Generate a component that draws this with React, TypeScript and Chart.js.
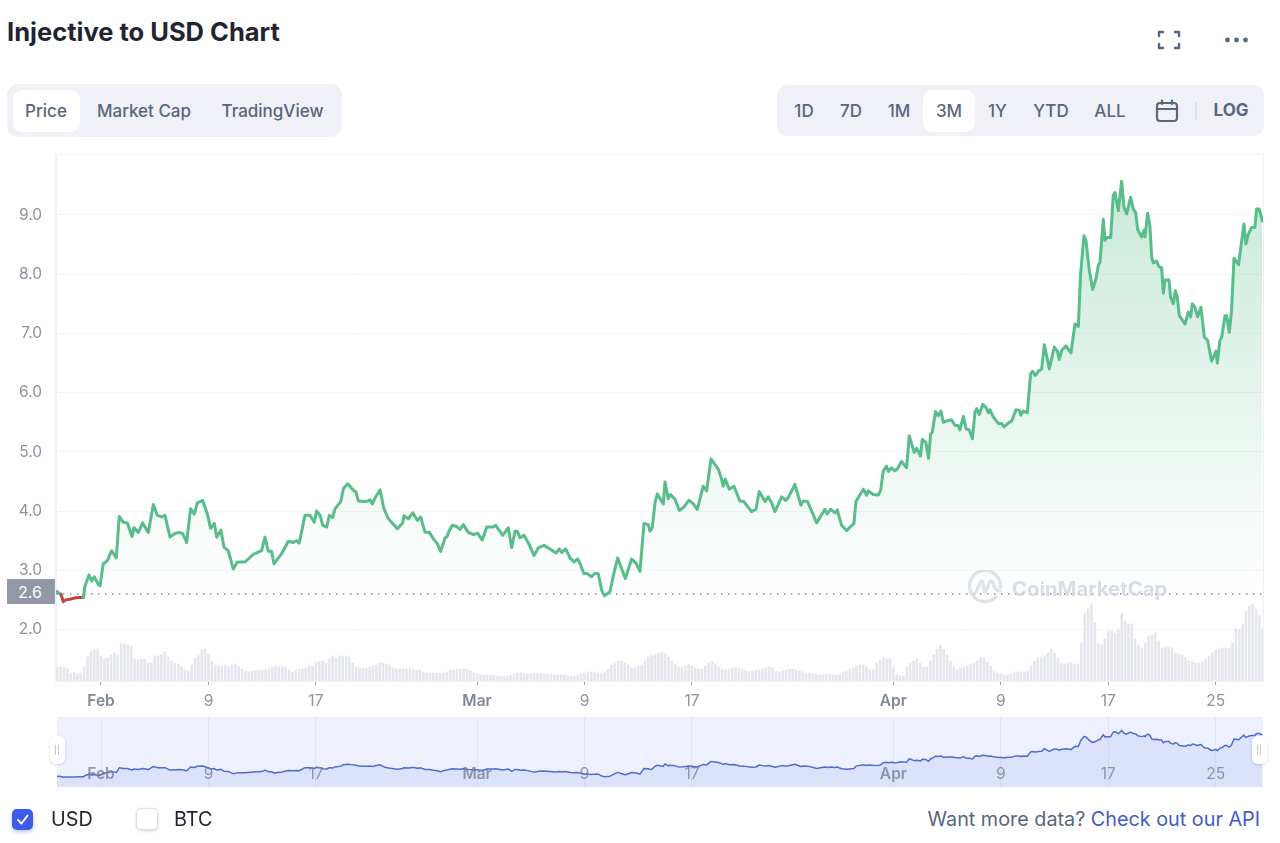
import { useEffect, useRef } from 'react';
import Chart from 'chart.js/auto';

// x values are days counted from Feb 1
const priceDays = [
  -3.3, -2.98, -2.8, -2.63, -2.31, -1.99, -1.64, -1.32, -1.19, -0.89, -0.69, -0.5, -0.2, -0.07, 0.17, 0.47, 0.79, 1.14, 1.36, 1.66,
  1.96, 2.31, 2.46, 2.78, 3.1, 3.52, 3.9, 4.19, 4.52, 4.76, 5.14, 5.51, 5.81, 6.08, 6.38, 6.67, 6.95, 7.17, 7.57, 7.92,
  8.16, 8.44, 8.61, 8.93, 9.16, 9.48, 9.85, 10.15, 10.72, 11.34, 11.96, 12.21, 12.46, 12.7, 12.88, 13.45, 13.95, 14.32, 14.57, 14.76,
  15.19, 15.56, 15.88, 16.05, 16.31, 16.51, 16.81, 17.0, 17.25, 17.43, 17.85, 18.05, 18.37, 18.79, 18.99, 19.16, 19.73, 20.03, 20.21, 20.4,
  20.78, 21.07, 21.4, 22.07, 22.46, 22.56, 22.89, 23.21, 23.56, 23.8, 24.13, 24.45, 24.75, 25.04, 25.29, 25.62, 25.74, 25.91, 26.16, 26.48,
  26.73, 26.98, 27.35, 27.77, 28.02, 28.39, 28.72, 29.21, 29.39, 29.91, 30.33, 30.58, 30.83, 31.0, 31.2, 31.5, 31.87, 32.24, 32.56, 32.98,
  33.43, 33.88, 34.13, 34.3, 34.6, 34.92, 35.22, 35.49, 35.66, 35.96, 36.16, 36.53, 36.78, 37.03, 37.28, 37.48, 37.9, 38.15, 38.47, 38.72,
  39.04, 39.51, 39.83, 40.13, 40.43, 40.75, 40.87, 41.05, 41.25, 41.42, 41.87, 41.99, 42.24, 42.41, 42.74, 43.06, 43.36, 43.78, 44.1, 44.4,
  44.84, 45.09, 45.42, 45.71, 45.96, 46.21, 46.33, 46.48, 46.78, 47.13, 47.57, 47.87, 48.44, 48.77, 49.01, 49.44, 49.68, 49.93, 50.18, 50.68,
  50.97, 51.17, 51.67, 52.11, 52.29, 52.61, 53.03, 53.28, 53.9, 54.08, 54.32, 54.65, 54.82, 55.14, 55.51, 56.06, 56.21, 56.76, 57.0, 57.13,
  57.5, 57.87, 58.05, 58.24, 58.49, 58.62, 58.86, 59.11, 59.29, 59.61, 59.98, 60.18, 60.55, 60.73, 61.02, 61.15, 61.42, 61.62, 61.77, 61.89,
  62.14, 62.34, 62.54, 62.71, 63.08, 63.33, 63.58, 63.83, 63.95, 64.21, 64.41, 64.65, 64.88, 65.08, 65.2, 65.4, 65.65, 65.9, 66.07, 66.19,
  66.44, 66.81, 67.06, 67.24, 67.56, 67.81, 68.13, 68.38, 68.48, 68.67, 68.97, 69.22, 69.37, 69.57, 69.79, 70.04, 70.24, 70.61, 70.98, 71.21,
  71.35, 71.53, 71.85, 72.22, 72.52, 72.77, 72.94, 73.19, 73.34, 73.59, 73.84, 74.08, 74.26, 74.38, 74.63, 74.75, 74.88, 75.18, 75.37, 75.5,
  75.75, 75.99, 76.17, 76.37, 76.66, 76.86, 77.04, 77.19, 77.48, 77.66, 77.73, 77.93, 78.1, 78.23, 78.35, 78.6, 78.77, 78.97, 79.1, 79.22,
  79.52, 79.64, 79.84, 79.99, 80.14, 80.29, 80.71, 80.96, 81.13, 81.26, 81.45, 81.65, 81.9, 82.15, 82.4, 82.69, 83.02, 83.12, 83.31, 83.44,
  83.69, 83.81, 84.01, 84.18, 84.36, 84.7, 85.1, 85.25, 85.42, 85.67, 85.92, 86.04, 86.24, 86.47,
];

const prices = [
  2.64, 2.59, 2.47, 2.5, 2.51, 2.53, 2.54, 2.54, 2.74, 2.92, 2.82, 2.89, 2.76, 2.74, 3.11, 3.16, 3.33, 3.21, 3.91, 3.81,
  3.8, 3.57, 3.72, 3.64, 3.8, 3.64, 4.11, 3.93, 3.9, 3.93, 3.56, 3.62, 3.64, 3.62, 3.47, 4.04, 3.95, 4.14, 4.18, 3.95,
  3.71, 3.79, 3.56, 3.68, 3.39, 3.33, 3.02, 3.14, 3.14, 3.27, 3.33, 3.56, 3.32, 3.32, 3.11, 3.28, 3.49, 3.47, 3.5, 3.46,
  3.93, 3.93, 3.81, 4.0, 3.93, 3.76, 3.73, 3.93, 3.89, 4.04, 4.16, 4.38, 4.46, 4.35, 4.32, 4.17, 4.16, 4.19, 4.12, 4.22,
  4.36, 4.04, 3.87, 3.7, 3.8, 3.92, 3.87, 3.97, 3.84, 3.9, 3.64, 3.64, 3.53, 3.45, 3.32, 3.55, 3.56, 3.66, 3.76, 3.74,
  3.69, 3.77, 3.64, 3.6, 3.63, 3.51, 3.73, 3.73, 3.76, 3.59, 3.72, 3.38, 3.66, 3.66, 3.55, 3.59, 3.44, 3.25, 3.38, 3.42,
  3.36, 3.29, 3.36, 3.3, 3.36, 3.21, 3.14, 3.19, 3.12, 2.94, 2.95, 2.89, 2.95, 2.94, 2.66, 2.57, 2.64, 2.91, 3.21, 3.05,
  2.86, 3.19, 3.12, 2.98, 3.79, 3.77, 3.66, 3.72, 4.14, 4.29, 4.12, 4.49, 4.21, 4.28, 4.2, 4.01, 4.06, 4.18, 4.12, 4.03,
  4.42, 4.34, 4.88, 4.79, 4.71, 4.54, 4.42, 4.54, 4.37, 4.42, 4.17, 4.16, 3.99, 4.03, 4.33, 4.16, 4.24, 4.14, 3.99, 4.24,
  4.18, 4.23, 4.45, 4.1, 4.17, 4.16, 3.94, 3.8, 4.03, 3.95, 4.03, 3.97, 4.02, 3.76, 3.67, 3.79, 4.16, 4.37, 4.27, 4.34,
  4.28, 4.27, 4.35, 4.67, 4.76, 4.67, 4.73, 4.68, 4.71, 4.84, 4.73, 5.27, 4.99, 5.06, 4.93, 5.21, 5.16, 4.89, 5.3, 5.33,
  5.68, 5.61, 5.69, 5.5, 5.53, 5.54, 5.45, 5.44, 5.37, 5.6, 5.39, 5.37, 5.22, 5.67, 5.73, 5.63, 5.8, 5.75, 5.66, 5.71,
  5.59, 5.48, 5.48, 5.42, 5.49, 5.52, 5.71, 5.7, 5.62, 5.69, 5.66, 6.32, 6.36, 6.29, 6.36, 6.4, 6.81, 6.4, 6.77, 6.7,
  6.56, 6.71, 6.79, 6.67, 7.16, 7.12, 8.01, 8.65, 8.57, 8.06, 7.74, 7.92, 8.15, 8.2, 8.93, 8.57, 8.62, 8.62, 9.33, 9.38,
  9.07, 9.57, 9.13, 9.02, 9.3, 9.1, 9.04, 8.75, 8.63, 8.74, 8.63, 9.03, 8.82, 8.29, 8.19, 8.22, 8.13, 8.11, 7.68, 7.9,
  7.9, 7.61, 7.5, 7.72, 7.61, 7.3, 7.16, 7.36, 7.28, 7.5, 7.44, 7.28, 7.44, 6.94, 6.88, 6.53, 6.7, 6.5, 6.88, 6.93,
  7.3, 7.3, 7.02, 7.39, 8.27, 8.16, 8.85, 8.51, 8.67, 8.79, 8.79, 9.1, 9.1, 8.9,
];

// four readings a day, first one on day -3.25
const volumes = [
  14, 14, 13, 12, 8, 8, 7, 8, 14, 24, 30, 31, 32, 25, 22, 23, 26, 28, 26, 38,
  37, 36, 35, 22, 21, 22, 22, 18, 18, 25, 25, 26, 29, 24, 20, 18, 17, 14, 11, 10,
  16, 23, 26, 31, 32, 27, 20, 16, 15, 15, 16, 14, 16, 17, 15, 12, 10, 9, 10, 10,
  11, 11, 11, 12, 14, 15, 15, 15, 14, 11, 9, 11, 12, 12, 13, 15, 15, 19, 20, 20,
  18, 22, 25, 23, 25, 25, 25, 24, 18, 14, 13, 13, 13, 14, 15, 16, 18, 18, 17, 16,
  13, 12, 12, 12, 12, 13, 12, 11, 11, 9, 8, 8, 8, 8, 8, 8, 9, 11, 11, 12,
  12, 12, 12, 10, 8, 7, 7, 6, 6, 6, 6, 5, 5, 5, 5, 6, 7, 8, 8, 7,
  7, 7, 8, 8, 8, 7, 7, 7, 6, 6, 6, 6, 5, 5, 5, 6, 7, 8, 9, 9,
  9, 8, 8, 9, 12, 16, 18, 20, 20, 18, 16, 13, 13, 15, 16, 20, 24, 26, 27, 28,
  29, 28, 24, 20, 17, 14, 14, 15, 16, 15, 13, 12, 12, 15, 18, 20, 17, 14, 12, 11,
  12, 13, 13, 13, 12, 10, 9, 10, 11, 11, 12, 13, 14, 13, 10, 9, 10, 11, 12, 12,
  11, 10, 9, 8, 8, 7, 7, 6, 6, 7, 7, 6, 6, 7, 9, 10, 12, 13, 15, 16,
  16, 14, 11, 12, 18, 21, 23, 22, 23, 14, 6, 5, 5, 14, 18, 20, 22, 18, 14, 14,
  20, 26, 32, 36, 32, 26, 20, 14, 11, 13, 14, 15, 17, 18, 20, 23, 23, 19, 15, 10,
  8, 7, 6, 6, 7, 9, 9, 9, 9, 10, 15, 20, 23, 24, 25, 28, 32, 28, 23, 18,
  17, 18, 18, 17, 17, 38, 68, 72, 77, 58, 37, 36, 42, 50, 50, 48, 52, 68, 60, 57,
  57, 42, 36, 33, 38, 45, 46, 48, 40, 33, 34, 34, 33, 28, 27, 26, 23, 20, 19, 18,
  18, 19, 22, 25, 28, 31, 32, 33, 33, 33, 38, 52, 51, 57, 70, 75, 77, 72, 65, 52,
];

const baselinePrice = 2.6;
const priceTicks = [2, 3, 4, 5, 6, 7, 8, 9];
const tickDays = [0, 8, 16, 28, 36, 44, 59, 67, 75, 83];
const tickLabels = ['Feb', '9', '17', 'Mar', '9', '17', 'Apr', '9', '17', '25'];
const monthLabels = ['Feb', 'Mar', 'Apr'];
const leftTabs = [['Price', 46], ['Market Cap', 144], ['TradingView', 272.5]] as const;
const rangeButtons = [['1D', 804], ['7D', 851], ['1M', 899], ['3M', 949], ['1Y', 997.5], ['YTD', 1051], ['ALL', 1110]] as const;

const pricePoints = priceDays.map((x, i) => ({ x, y: prices[i] }));
const volumePoints = volumes.map((y, i) => ({ x: -3.25 + i / 4, y }));
const labelForDay = (value: number) => tickLabels[tickDays.indexOf(value)] ?? '';
const setDayTicks = (scale: any) => {
  scale.ticks = tickDays.map((value) => ({ value }));
};
const isMonthTick = (c: any) => monthLabels.includes(c.tick?.label);

const FONT = 'Inter, "Noto Sans", sans-serif';

function Text({ x, y, size = 16, weight = 500, color = '#58667e', children, align = 'center' }: any) {
  const shift = align === 'center' ? 'translate(-50%, -50%)' : align === 'right' ? 'translate(-100%, -50%)' : 'translateY(-50%)';
  return (
    <span style={{ position: 'absolute', left: x, top: y, transform: shift, fontSize: size, fontWeight: weight, color, whiteSpace: 'nowrap', lineHeight: 1 }}>
      {children}
    </span>
  );
}

function Box({ x, y, w, h, style }: any) {
  return <div style={{ position: 'absolute', left: x, top: y, width: w, height: h, boxSizing: 'border-box', ...style }} />;
}

function Handle({ x }: { x: number }) {
  return (
    <div style={{ position: 'absolute', left: x, top: 736, width: 15, height: 28, background: '#fff', borderRadius: 6, boxShadow: '0 1px 3px rgba(90,100,130,0.25)' }}>
      <div style={{ position: 'absolute', left: 5, top: 9, width: 1, height: 10, background: '#c3c8d2' }} />
      <div style={{ position: 'absolute', left: 8, top: 9, width: 1, height: 10, background: '#c3c8d2' }} />
    </div>
  );
}

export default function App() {
  const mainRef = useRef<HTMLCanvasElement | null>(null);
  const miniRef = useRef<HTMLCanvasElement | null>(null);

  useEffect(() => {
    const mainCtx = mainRef.current?.getContext('2d');
    const miniCtx = miniRef.current?.getContext('2d');
    if (!mainCtx || !miniCtx) return;

    const main = new Chart(mainCtx, {
      type: 'line',
      data: {
        datasets: [
          {
            type: 'line',
            data: pricePoints,
            borderWidth: 3,
            borderColor: '#58bd8a',
            borderJoinStyle: 'round',
            borderCapStyle: 'round',
            pointRadius: 0,
            tension: 0,
            order: 1,
            fill: { target: { value: baselinePrice } },
            backgroundColor: (c: any) => {
              const y = c.chart.scales.y;
              const top = y?.getPixelForValue(9.6);
              const bottom = y?.getPixelForValue(baselinePrice);
              if (!c.chart.chartArea || !Number.isFinite(top) || !Number.isFinite(bottom)) return 'transparent';
              const g = c.chart.ctx.createLinearGradient(0, top, 0, bottom);
              g.addColorStop(0, 'rgba(88,189,138,0.32)');
              g.addColorStop(1, 'rgba(88,189,138,0)');
              return g;
            },
            segment: {
              borderColor: (c: any) => (c.p0.parsed.y < baselinePrice && c.p1.parsed.y < baselinePrice ? '#c7403f' : undefined),
            },
          },
          {
            type: 'line',
            data: [
              { x: -3.35, y: baselinePrice },
              { x: 86.52, y: baselinePrice },
            ],
            borderWidth: 1.4,
            borderColor: '#7d838f',
            borderDash: [1.4, 5.6],
            pointRadius: 0,
            order: 2,
          },
          {
            type: 'bar',
            data: volumePoints,
            yAxisID: 'yVolume',
            backgroundColor: '#e5e7ec',
            barThickness: 2,
            order: 3,
          },
        ] as any,
      },
      options: {
        animation: false,
        responsive: false,
        parsing: false,
        layout: { autoPadding: false, padding: { top: 14, right: 17, left: 0, bottom: 0 } },
        plugins: { legend: { display: false }, tooltip: { enabled: false } },
        scales: {
          x: {
            type: 'linear',
            offset: false,
            min: -3.35,
            max: 86.52,
            afterBuildTicks: setDayTicks,
            afterFit: (s: any) => {
              s.height = 39;
              s.paddingLeft = 0;
              s.paddingRight = 0;
            },
            grid: { offset: false, drawOnChartArea: false, drawTicks: true, tickLength: 4, tickColor: '#9aa1ae' },
            border: { color: '#e8eaef' },
            ticks: {
              autoSkip: false,
              maxRotation: 0,
              padding: 7,
              callback: (v: any) => labelForDay(v),
              color: (c: any) => (isMonthTick(c) ? '#7f8799' : '#8c92a3'),
              font: (c: any) => ({ family: FONT, size: 15.5, weight: isMonthTick(c) ? 600 : 400 }),
            },
          },
          y: {
            min: 1.13,
            max: 10.03,
            afterBuildTicks: (s: any) => {
              s.ticks = priceTicks.map((value) => ({ value }));
            },
            afterFit: (s: any) => {
              s.width = 56;
              s.paddingTop = 0;
              s.paddingBottom = 0;
            },
            grid: { color: '#f3f4f6', drawTicks: false },
            border: { color: '#eff0f3' },
            ticks: {
              padding: 14,
              color: '#8c92a3',
              font: { family: FONT, size: 15.5 },
              callback: (v: any) => Number(v).toFixed(1),
            },
          },
          yVolume: { display: false, min: 0, max: 527 },
        },
      },
    });

    const mini = new Chart(miniCtx, {
      type: 'line',
      data: {
        datasets: [
          {
            data: pricePoints,
            borderWidth: 1.5,
            borderColor: '#4f6dcf',
            borderJoinStyle: 'round',
            backgroundColor: 'rgba(70,100,235,0.1)',
            pointRadius: 0,
            tension: 0,
            fill: 'origin',
          },
        ] as any,
      },
      options: {
        animation: false,
        responsive: false,
        parsing: false,
        layout: { autoPadding: false },
        plugins: { legend: { display: false }, tooltip: { enabled: false } },
        scales: {
          x: {
            type: 'linear',
            // axis sits inside the plot, labels overlap the line like the reference
            position: { y: 4.3 },
            min: -3.28,
            max: 86.52,
            afterBuildTicks: setDayTicks,
            afterFit: (s: any) => {
              s.paddingLeft = 0;
              s.paddingRight = 0;
            },
            grid: { color: '#e2e5f4', drawTicks: false },
            border: { display: false },
            ticks: {
              autoSkip: false,
              maxRotation: 0,
              z: 1,
              padding: 0,
              callback: (v: any) => labelForDay(v),
              color: 'rgba(120,128,148,0.8)',
              font: (c: any) => ({ family: FONT, size: 15.5, weight: isMonthTick(c) ? 600 : 400 }),
            },
          },
          y: { display: false, min: 1, max: 11.6 },
        },
      },
    });

    return () => {
      main.destroy();
      mini.destroy();
    };
  }, []);

  return (
    <div style={{ position: 'absolute', left: 0, top: 0, width: 1280, height: 843, overflow: 'hidden', fontFamily: FONT, background: '#fff' }}>
      <Text x={7} y={32} size={25.5} weight={700} color="#222531" align="left">
        Injective to USD Chart
      </Text>

      <svg style={{ position: 'absolute', left: 1157, top: 30 }} width="24" height="20" fill="none" stroke="#58667e" strokeWidth="2.4" strokeLinecap="round" strokeLinejoin="round">
        <path d="M2 6V2H6M18 2H22V6M22 14V18H18M6 18H2V14" />
      </svg>
      <svg style={{ position: 'absolute', left: 1224, top: 36 }} width="26" height="8" fill="#58667e">
        <circle cx="3.5" cy="4" r="2.4" />
        <circle cx="12.5" cy="4" r="2.4" />
        <circle cx="21.5" cy="4" r="2.4" />
      </svg>

      <Box x={7} y={84} w={335} h={53} style={{ background: '#eff1f6', borderRadius: 11 }} />
      <Box x={13} y={90} w={67} h={42} style={{ background: '#fff', borderRadius: 9 }} />
      {leftTabs.map(([label, x]) => (
        <Text key={label} x={x} y={110.5} size={17}>
          {label}
        </Text>
      ))}

      <Box x={777} y={85} w={487} h={51} style={{ background: '#eff1f6', borderRadius: 10 }} />
      <Box x={923} y={90} w={52} h={42} style={{ background: '#fff', borderRadius: 9 }} />
      {rangeButtons.map(([label, x]) => (
        <Text key={label} x={x} y={110.5} size={17}>
          {label}
        </Text>
      ))}
      <svg style={{ position: 'absolute', left: 1155, top: 99 }} width="24" height="24" fill="none" stroke="#58667e" strokeWidth="2.2" strokeLinecap="round">
        <rect x="2" y="4" width="20" height="18" rx="3" />
        <path d="M2 10H22M7 1.5V5M17 1.5V5" />
      </svg>
      <Box x={1195} y={102} w={2} h={18} style={{ background: '#dcdfe6' }} />
      <Text x={1231} y={110} size={17} weight={700}>
        LOG
      </Text>

      <canvas ref={mainRef} width={1280} height={580} style={{ position: 'absolute', left: 0, top: 140 }} />
      <Box x={55} y={154} w={1209} h={528} style={{ border: '1px solid #f0f1f4', pointerEvents: 'none' }} />

      <Box x={7} y={579} w={48} h={25} style={{ background: '#9298a6' }} />
      <Text x={30} y={592} size={16} weight={400} color="#fff">
        2.6
      </Text>

      <svg style={{ position: 'absolute', left: 967, top: 570, opacity: 0.75 }} width="36" height="36" fill="none" stroke="#d3d8e2" strokeWidth="3.4" strokeLinecap="round" strokeLinejoin="round">
        <path d="M29 27A15.5 15.5 0 1 1 33.5 17" />
        <path d="M7 24C10 24 12 11 15 11C17 11 16 22 18 22C20 22 21 11 24 11C27 11 26 21 33 21" />
      </svg>
      <Text x={1012} y={589} size={20.3} weight={700} color="rgba(205,211,222,0.8)" align="left">
        CoinMarketCap
      </Text>

      <canvas ref={miniRef} width={1206} height={70} style={{ position: 'absolute', left: 57, top: 717, background: '#eef1fd' }} />
      <Handle x={50} />
      <Handle x={1252} />

      <Box x={12} y={809} w={21} h={21} style={{ background: '#3f5ce6', borderRadius: 5, boxShadow: '0 2px 4px rgba(60,90,230,0.35)' }} />
      <svg style={{ position: 'absolute', left: 12, top: 809 }} width="21" height="21" fill="none" stroke="#fff" strokeWidth="2" strokeLinecap="round" strokeLinejoin="round">
        <path d="M6 11L9.5 14.5L15.5 6.5" />
      </svg>
      <Text x={51} y={819.5} size={19.8} weight={400} color="#222531" align="left">
        USD
      </Text>
      <Box x={136} y={808} w={22} h={22} style={{ background: '#fff', border: '1px solid #dcdfe6', borderRadius: 5, boxShadow: '0 1px 3px rgba(80,90,110,0.25)' }} />
      <Text x={174} y={819.5} size={19.8} weight={400} color="#222531" align="left">
        BTC
      </Text>
      <Text x={1260} y={819.5} size={19.8} weight={400} align="right">
        Want more data? <span style={{ color: '#3f5bc8' }}>Check out our API</span>
      </Text>
    </div>
  );
}
